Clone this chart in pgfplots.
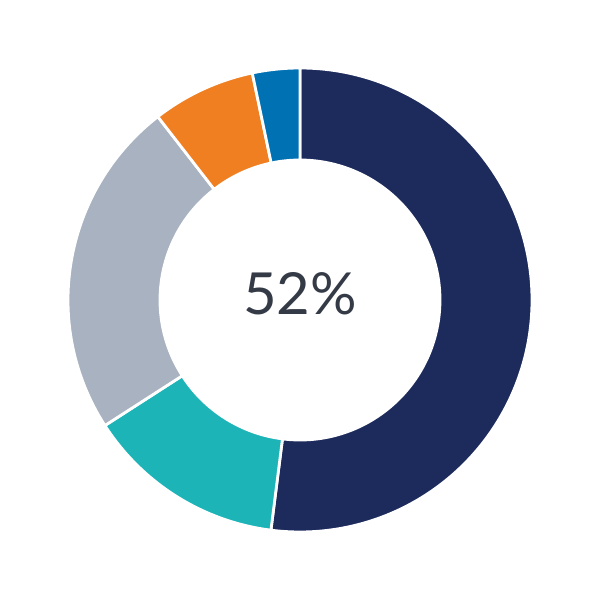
\documentclass[border=0pt]{standalone}
\usepackage{fontspec}
\setmainfont{Lato}
\usepackage{pgfplots}
\usepackage{pgfplotstable}
\pgfplotsset{compat=1.18}

\definecolor{segnavy}{HTML}{1C2B5C}
\definecolor{segteal}{HTML}{1DB4B8}
\definecolor{seggray}{HTML}{A8B2C0}
\definecolor{segorange}{HTML}{F07F22}
\definecolor{segblue}{HTML}{0072B4}
\definecolor{textdark}{HTML}{353B46}

% shares in percent, clockwise from 12 o'clock
\pgfplotstableread{
share color
52   segnavy
13.9 segteal
23.6 seggray
7.2  segorange
3.3  segblue
}\donutdata

\begin{document}
\begin{tikzpicture}
\begin{axis}[
    hide axis,
    scale only axis,
    x=0.5pt, y=0.5pt,
    xmin=-300, xmax=300, ymin=-300, ymax=300,
    clip=false,
]
\path (axis cs:-300,-300) rectangle (axis cs:300,300);
\pgfplotstablegetrowsof{\donutdata}
\pgfmathtruncatemacro\nrows{\pgfplotsretval-1}
\def\startangle{90}
\pgfplotsforeachungrouped \i in {0,...,\nrows}{%
  \pgfplotstablegetelem{\i}{share}\of\donutdata \let\share\pgfplotsretval
  \pgfplotstablegetelem{\i}{color}\of\donutdata \let\col\pgfplotsretval
  \pgfmathsetmacro\endangle{\startangle-3.6*\share}
  \pgfmathsetmacro\backangle{\endangle+180}
  \edef\temp{\noexpand\filldraw[fill=\col, draw=white, line width=1.4pt, line join=miter]
    (axis cs:0,0) ++(\startangle:116pt)
    arc[start angle=\startangle, end angle=\endangle, radius=116pt]
    -- ++(\backangle:46pt)
    arc[start angle=\endangle, end angle=\startangle, radius=70pt] -- cycle;}
  \temp
  \let\startangle\endangle
}
\node[text=textdark, font=\fontsize{29}{29}\selectfont] at (axis cs:0,6) {52\%};
\end{axis}
\end{tikzpicture}
\end{document}
